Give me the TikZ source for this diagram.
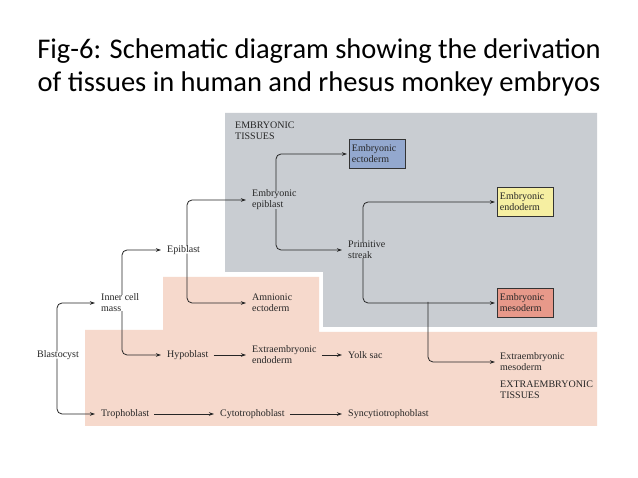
\documentclass[tikz,border=0pt]{standalone}
\usepackage{fontspec}
\setmainfont{Liberation Serif}
\newfontfamily\titlefont{Carlito}
\usetikzlibrary{arrows.meta}
\definecolor{graybg}{HTML}{C9CDD2}
\definecolor{pinkbg}{HTML}{F6D9CC}
\definecolor{ectoc}{HTML}{93A8CE}
\definecolor{endoc}{HTML}{F6EFA2}
\definecolor{mesoc}{HTML}{E7998A}
\begin{document}
\begin{tikzpicture}[x=1pt,y=-1pt,
  lbl/.style={anchor=west,align=left,font=\fontsize{10}{11}\selectfont,inner sep=1pt,text=black!85},
  boxn/.style={lbl,draw=black!80,line width=0.8pt,inner sep=2pt,minimum width=56pt,minimum height=29pt,text width=51pt},
  arr/.style={draw=black!85,line width=0.8pt,rounded corners=5pt,-{Stealth[length=5pt,width=3.5pt]}}]
\useasboundingbox (0,0) rectangle (638,478);
\fill[white] (0,0) rectangle (638,478);
\node[font=\titlefont\fontsize{28.5}{33}\selectfont,align=center] (title) at (319,67)
  {Fig-6: Schematic diagram showing the derivation\\of tissues in human and rhesus monkey embryos};
\fill[graybg] (225,113) -- (597,113) -- (597,327) -- (323,327) -- (323,272) -- (225,272) -- cycle;
\fill[pinkbg] (163,277) -- (319,277) -- (319,332) -- (597,332) -- (597,426) -- (85,426) -- (85,330) -- (163,330) -- cycle;
\node[lbl] (et) at (234,131) {EMBRYONIC\\TISSUES};
\node[lbl] (xt) at (499,390) {EXTRAEMBRYONIC\\TISSUES};
\node[boxn,fill=ectoc] (ecto) at (349,154) {Embryonic\\ectoderm};
\node[boxn,fill=endoc] (endo) at (497,202) {Embryonic\\endoderm};
\node[boxn,fill=mesoc] (meso) at (497,303) {Embryonic\\mesoderm};
\node[lbl] (eepi) at (251,200) {Embryonic\\epiblast};
\node[lbl] (epi) at (166,250) {Epiblast};
\node[lbl] (icm) at (100,303) {Inner cell\\mass};
\node[lbl] (amn) at (251,303) {Amnionic\\ectoderm};
\node[lbl] (blast) at (36,355) {Blastocyst};
\node[lbl] (hypo) at (166,355) {Hypoblast};
\node[lbl] (xendo) at (251,355) {Extraembryonic\\endoderm};
\node[lbl] (yolk) at (347,355) {Yolk sac};
\node[lbl] (ps) at (347,250) {Primitive\\streak};
\node[lbl] (xmeso) at (499,362) {Extraembryonic\\mesoderm};
\node[lbl] (tropho) at (100,414) {Trophoblast};
\node[lbl] (cyto) at (219,414) {Cytotrophoblast};
\node[lbl] (sync) at (347,414) {Syncytiotrophoblast};
\coordinate (b1) at (57,355);
\coordinate (b2) at (122,320);
\coordinate (b3) at (187,262);
\coordinate (b4) at (276,213);
\coordinate (b5) at (363,265);
\coordinate (b6) at (428,302);
\draw[arr] ([yshift=-2pt]b1 |- blast.north) |- ([xshift=-5pt]icm.west);
\draw[arr] ([yshift=2pt]b1 |- blast.south) |- ([xshift=-5pt]tropho.west);
\draw[arr] ([yshift=-2pt]b2 |- icm.north) |- ([xshift=-5pt]epi.west);
\draw[arr] ([yshift=2pt]b2 |- icm.south) |- ([xshift=-5pt]hypo.west);
\draw[arr] ([yshift=-2pt]b3 |- epi.north) |- ([xshift=-5pt]eepi.west);
\draw[arr] ([yshift=2pt]b3 |- epi.south) |- ([xshift=-5pt]amn.west);
\draw[arr] ([yshift=-2pt]b4 |- eepi.north) |- ([xshift=-2pt]ecto.west);
\draw[arr] ([yshift=2pt]b4 |- eepi.south) |- ([xshift=-5pt]ps.west);
\draw[arr] ([yshift=-2pt]b5 |- ps.north) |- ([xshift=-2pt]endo.west);
\draw[arr] ([yshift=2pt]b5 |- ps.south) |- ([xshift=-2pt]meso.west);
\draw[arr] (b6) |- ([xshift=-4pt]xmeso.west);
\draw[arr] ([xshift=4pt]hypo.east) -- ([xshift=-5pt]xendo.west);
\draw[arr] ([xshift=4pt]xendo.east) -- ([xshift=-5pt]yolk.west);
\draw[arr] ([xshift=4pt]tropho.east) -- ([xshift=-5pt]cyto.west);
\draw[arr] ([xshift=4pt]cyto.east) -- ([xshift=-5pt]sync.west);
\end{tikzpicture}
\end{document}
